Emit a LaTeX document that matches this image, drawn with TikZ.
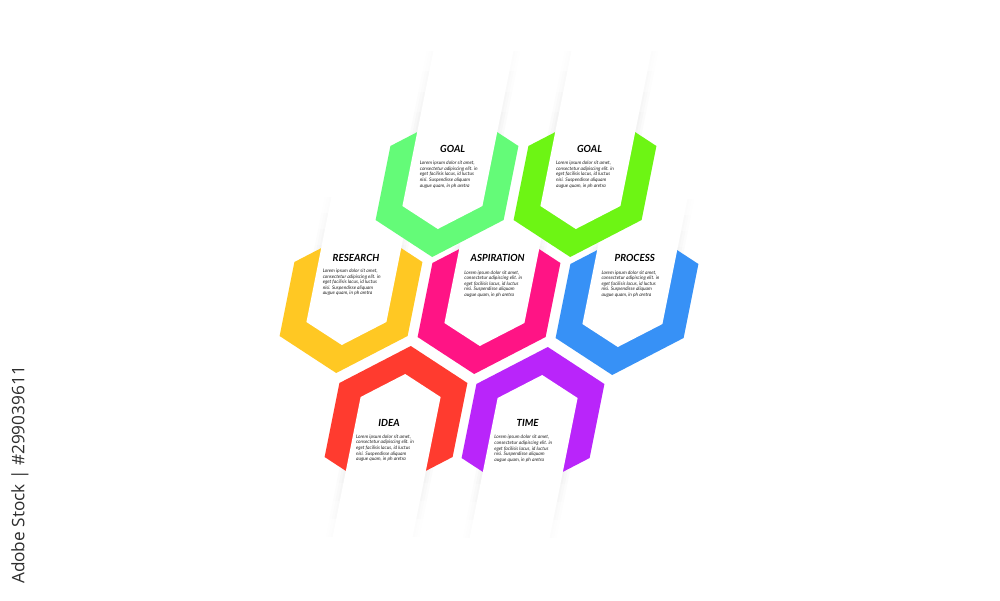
\documentclass[tikz,border=0pt]{standalone}
\usepackage{fontspec}
\newfontfamily\lato{Lato}
\newfontfamily\opensans{Open Sans}
\usetikzlibrary{fadings}
\definecolor{cgoalA}{HTML}{64FB78}
\definecolor{cgoalB}{HTML}{6DF514}
\definecolor{cresearch}{HTML}{FFC823}
\definecolor{caspir}{HTML}{FF1485}
\definecolor{cprocess}{HTML}{3791F6}
\definecolor{cidea}{HTML}{FF3B2F}
\definecolor{ctime}{HTML}{B925FA}
\tikzset{
  ttl/.style={font=\lato\bfseries\itshape\fontsize{9.8}{11}\selectfont, text=black, inner sep=0pt},
  body/.style={font=\lato\itshape\fontsize{4.8}{5.6}\selectfont, text=black!88, align=left, inner sep=0pt},
  shadowband/.style={fill=black, opacity=0.028},
}
\newcommand\hexup[4]{%
  \begin{scope}[shift={(#1,#2)}, xslant=0.2]
    \foreach \w in {47,44.5,42}{\fill[shadowband, path fading=north] (-\w,-#4) rectangle (\w,0);}
    \fill[#3] (0,-74) -- (64,-37) -- (64,37) -- (0,74) -- (-64,37) -- (-64,-37) -- cycle;
    \fill[white] (-40,-#4) -- (40,-#4) -- (40,23) -- (0,46) -- (-40,23) -- cycle;
  \end{scope}}
\newcommand\hexdown[4]{%
  \begin{scope}[shift={(#1,#2)}, xslant=0.2]
    \foreach \w in {47,44.5,42}{\fill[shadowband, path fading=south] (-\w,0) rectangle (\w,#4);}
    \fill[#3] (0,-74) -- (64,-37) -- (64,37) -- (0,74) -- (-64,37) -- (-64,-37) -- cycle;
    \fill[white] (-40,-23) -- (0,-46) -- (40,-23) -- (40,#4) -- (-40,#4) -- cycle;
  \end{scope}}
\newcommand\lorem{Lorem ipsum dolor sit amet,\\consectetur adipiscing elit. in\\eget facilisis lacus, id luctus\\nisi. Suspendisse aliquam\\augue quam, in ph aretra}
\begin{document}
\begin{tikzpicture}[x=1pt, y=-1pt]
  \fill[white] (0,0) rectangle (1000,600);
  \useasboundingbox (0,0) rectangle (1000,600);
  % middle row
  \hexup{351}{299}{cresearch}{110}
  \hexup{489}{300}{caspir}{110}
  \hexup{627}{301}{cprocess}{110}
  % top row
  \hexup{447}{183}{cgoalA}{143}
  \hexup{585}{183}{cgoalB}{143}
  % bottom row
  \hexdown{396}{420}{cidea}{125}
  \hexdown{533}{421}{ctime}{125}
  % titles
  \node[ttl] (tgoal1) at (452.7,149) {GOAL};
  \node[ttl] (tgoal2) at (589.5,149) {GOAL};
  \node[ttl] (tresearch) at (356,258.3) {RESEARCH};
  \node[ttl] (taspir) at (497.7,258.3) {ASPIRATION};
  \node[ttl] (tprocess) at (634.7,258.3) {PROCESS};
  \node[ttl] (tidea) at (389,423.3) {IDEA};
  \node[ttl] (ttime) at (527.7,423.3) {TIME};
  % bodies
  \node[body] (bgoal1) at (448.8,174.5) {\lorem};
  \node[body] (bgoal2) at (585,174.5) {\lorem};
  \node[body] (bresearch) at (351.7,282.4) {\lorem};
  \node[body] (baspir) at (493.3,284) {\lorem};
  \node[body] (bprocess) at (630.5,284) {\lorem};
  \node[body] (bidea) at (385,448.2) {\lorem};
  \node[body] (btime) at (523.3,448.7) {\lorem};
  % side text
  \node[rotate=90, font=\opensans\fontsize{17.2}{18}\selectfont, text=black!82, inner sep=0pt] (side) at (20,475) {Adobe Stock | \#299039611};
\end{tikzpicture}
\end{document}
